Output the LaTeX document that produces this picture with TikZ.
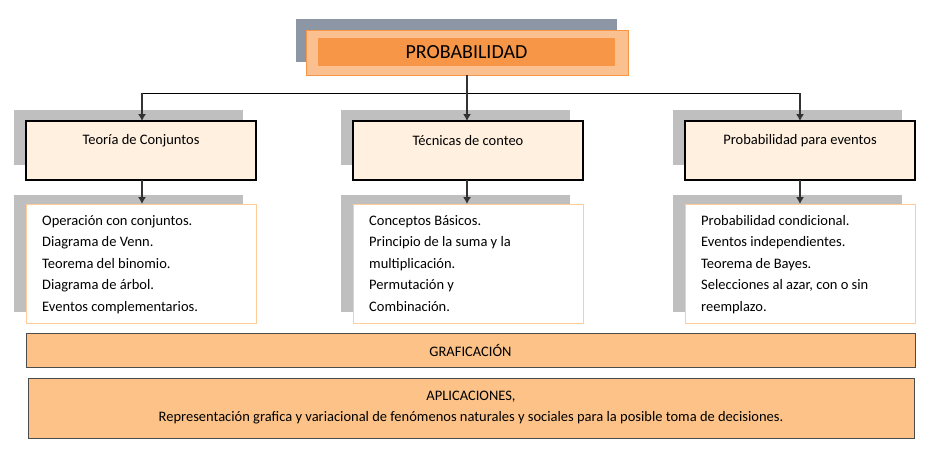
\documentclass[tikz,border=0pt]{standalone}
\usepackage{fontspec}
\setmainfont{Carlito}
\begin{document}
\begin{tikzpicture}[x=1pt,y=-1pt,
  shadow/.style={fill=black!25,draw=none},
  lvtwo/.style={fill=orange!12!white,draw=black,line width=1.6pt},
  lvthree/.style={fill=white,draw=orange!40!white,line width=1pt},
  bar/.style={fill=orange!45!white!95!brown,draw=black!70,line width=1pt},
  arr/.style={draw=black!80,line width=1.2pt,-{Latex[length=7pt,width=8pt]}},
  txt/.style={font=\fontsize{14.5}{21.5}\selectfont,align=left,anchor=north west,inner sep=0pt}]
\usetikzlibrary{arrows.meta}
\useasboundingbox (0,0) rectangle (939,469);
% top
\fill[fill={rgb,255:red,140;green,150;blue,165}] (296,19) rectangle (617,62);
\draw[fill={rgb,255:red,251;green,192;blue,143},draw={rgb,255:red,247;green,150;blue,70},line width=1pt] (306,30) rectangle (628,75);
\node[fill={rgb,255:red,247;green,150;blue,70},minimum width=297pt,minimum height=28pt,inner sep=0pt,font=\fontsize{20}{24}\selectfont] (top) at (466.5,52) {PROBABILIDAD};
\coordinate (topb) at (467,75);
\coordinate (hub) at (467,93);
% level 2
\foreach \x/\n/\t in {26/a/Teoría de Conjuntos,353/b/Técnicas de conteo,685/c/Probabilidad para eventos}{
  \fill[shadow] (\x-12,110) rectangle (\x+217,165);
  \draw[lvtwo] (\x,121) rectangle (\x+230,180);
  \node[font=\fontsize{14.5}{17}\selectfont,anchor=center] (\n) at (\x+115,141) {\t};
  \coordinate (\n t) at (\x+115,121);
  \coordinate (\n b) at (\x+115,180);
  \fill[shadow] (\x-12,195) rectangle (\x+217,312);
  \draw[lvthree] (\x,204) rectangle (\x+230,323);
  \coordinate (\n tt) at (\x+115,204);
}
\draw[line width=1pt] (142,93) -- (800,93);
\draw[line width=1.2pt,draw=black!80] (topb) -- (hub);
\draw[arr] (142,93) -- (142,121);
\draw[arr] (hub) -- (467,121);
\draw[arr] (800,93) -- (800,121);
\draw[arr] (142,180) -- (142,204);
\draw[arr] (467,180) -- (467,204);
\draw[arr] (800,180) -- (800,204);
\node[txt] (la) at (42,215) {Operación con conjuntos.\\Diagrama de Venn.\\Teorema del binomio.\\Diagrama de árbol.\\Eventos complementarios.};
\node[txt] (lb) at (369,215) {Conceptos Básicos.\\Principio de la suma y la\\multiplicación.\\Permutación y\\Combinación.};
\node[txt] (lc) at (701,215) {Probabilidad condicional.\\Eventos independientes.\\Teorema de Bayes.\\Selecciones al azar, con o sin\\reemplazo.};
\node[bar,minimum width=889pt,minimum height=34pt,inner sep=0pt,font=\fontsize{14.5}{17}\selectfont] (g) at (470.5,350) {GRAFICACIÓN};
\node[bar,minimum width=886pt,minimum height=60pt,inner sep=0pt,align=center,font=\fontsize{14.5}{21}\selectfont] (ap) at (471,408) {APLICACIONES,\\Representación grafica y variacional de fenómenos naturales y sociales para la posible toma de decisiones.};
\end{tikzpicture}
\end{document}
